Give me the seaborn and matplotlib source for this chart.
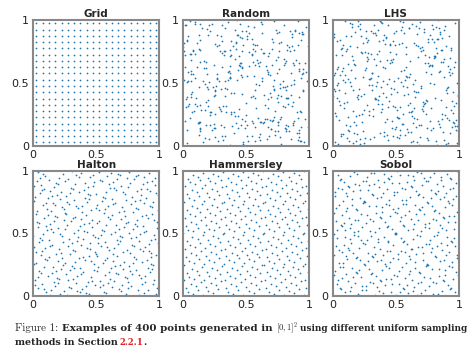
import matplotlib

matplotlib.use("Agg")
import matplotlib.pyplot as plt
import numpy as np
import pandas as pd
import seaborn as sns

# Panel titles in reading order
titles = ["Grid", "Random", "LHS", "Halton", "Hammersley", "Sobol"]
n_points = 400

# Grid: 20 x 20 cell-centred levels
grid_levels = [
    0.025, 0.075, 0.125, 0.175, 0.225, 0.275, 0.325, 0.375, 0.425, 0.475,
    0.525, 0.575, 0.625, 0.675, 0.725, 0.775, 0.825, 0.875, 0.925, 0.975,
]

tick_values = [0, 0.5, 1]
tick_labels = ["0", "0.5", "1"]

point_color = "#1f77b4"


def radical_inverse(i, base):
    f, r = 1.0, 0.0
    while i > 0:
        f /= base
        r += f * (i % base)
        i //= base
    return r


def sobol_2d(n):
    """Unscrambled 2-D Sobol points (Gray code order)."""
    bits = 32
    v1 = [1 << (bits - 1 - j) for j in range(bits)]
    v2 = []
    v = 1 << (bits - 1)
    for _ in range(bits):
        v2.append(v)
        v ^= v >> 1
    x = y = 0
    pts = []
    for i in range(n):
        pts.append((x / 2**bits, y / 2**bits))
        c = 0
        while (i >> c) & 1:
            c += 1
        x ^= v1[c]
        y ^= v2[c]
    return np.array(pts)


def sample_sets():
    # the random sets cannot be read point by point from the picture,
    # so a fixed seed stands in for them
    rng = np.random.default_rng(7)
    gx, gy = np.meshgrid(grid_levels, grid_levels)
    grid = np.column_stack([gx.ravel(), gy.ravel()])
    random = rng.random((n_points, 2))
    lhs = np.column_stack(
        [(rng.permutation(n_points) + rng.random(n_points)) / n_points for _ in range(2)]
    )
    idx = range(1, n_points + 1)
    halton = np.array([(radical_inverse(i, 2), radical_inverse(i, 3)) for i in idx])
    hammersley = np.array(
        [(i / n_points, radical_inverse(i, 2)) for i in range(n_points)]
    )
    sobol = sobol_2d(n_points + 1)[1:]
    return [grid, random, lhs, halton, hammersley, sobol]


def fit_text(fig, renderer, x0, x1, y, s, **kw):
    """Place a caption segment so that it spans x0..x1 pixels; returns right edge."""
    W, H = fig.bbox.width, fig.bbox.height
    t = fig.text(x0 / W, 1 - y / H, s, ha="left", va="baseline", **kw)
    if x1 is not None:
        width = t.get_window_extent(renderer).width
        t.set_fontsize(t.get_fontsize() * (x1 - x0) / width)
    return x0 + t.get_window_extent(renderer).width


def main():
    sns.set_style("white")
    plt.rcParams["mathtext.fontset"] = "cm"
    fig, axes = plt.subplots(2, 3, figsize=(4.74, 3.53), dpi=100)
    fig.subplots_adjust(
        left=0.070, right=0.968, top=0.943, bottom=0.161, wspace=0.19, hspace=0.20
    )

    for ax, title, pts in zip(axes.ravel(), titles, sample_sets()):
        df = pd.DataFrame(pts, columns=["x", "y"])
        sns.scatterplot(
            data=df, x="x", y="y", ax=ax, s=1.6, color=point_color, linewidth=0
        )
        ax.set_xlim(0, 1)
        ax.set_ylim(0, 1)
        ax.set_xticks(tick_values)
        ax.set_xticklabels(tick_labels)
        ax.set_yticks(tick_values)
        ax.set_yticklabels(tick_labels)
        ax.set_xlabel("")
        ax.set_ylabel("")
        ax.set_title(title, fontsize=7.5, fontweight="bold", pad=2)
        ax.tick_params(labelsize=8, length=2, pad=1, colors="#222222")
        for spine in ax.spines.values():
            spine.set_color("#888888")
            spine.set_linewidth(1.5)

    # Caption, LaTeX style, each segment fitted to its span in the reference
    renderer = fig.canvas.get_renderer()
    bold = dict(family="DejaVu Serif", fontweight="bold", fontsize=6.5)
    fit_text(fig, renderer, 15, 58, 331, "Figure 1:", family="cmr10", fontsize=7.6)
    fit_text(fig, renderer, 62, 272, 331, "Examples of 400 points generated in", **bold)
    fit_text(fig, renderer, 276, None, 331, r"$[0,1]^2$", fontsize=6.2)
    fit_text(fig, renderer, 300, 465, 331, "using different uniform sampling", **bold)
    fit_text(fig, renderer, 15, 117, 345, "methods in Section", **bold)
    end = fit_text(fig, renderer, 119, 143, 345, "2.2.1", color="#e3202a", **bold)
    fit_text(fig, renderer, end, None, 345, ".", **bold)

    fig.savefig("out.png", dpi=100)


if __name__ == "__main__":
    main()
